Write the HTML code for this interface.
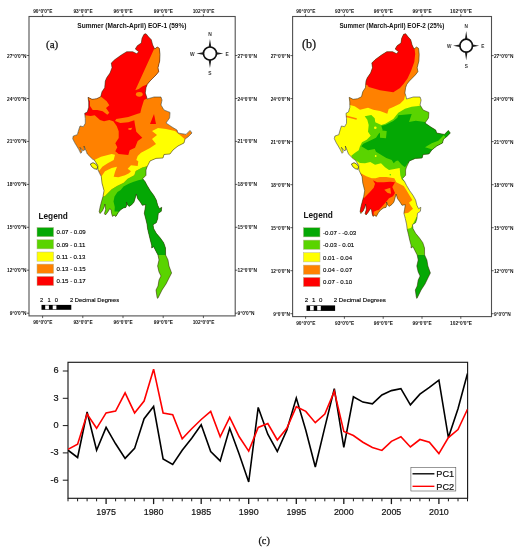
<!DOCTYPE html>
<html lang="en"><head><meta charset="utf-8"><title>Summer EOF patterns and principal components</title>
<style>
html,body{margin:0;padding:0;background:#fff}
body{width:525px;height:550px;overflow:hidden}
svg{display:block}
text{font-family:"Liberation Sans",sans-serif;fill:#111}
.tk{font-size:4.8px;font-weight:bold}
.tt{font-size:6.55px;font-weight:bold}
.cp{font-size:4.9px;fill:#333;font-weight:bold}
.lg{font-size:8.3px;font-weight:bold}
.ll{font-size:6.1px;fill:#000;stroke:#000;stroke-width:0.12px}
.ax{font-size:9.2px;stroke:#111;stroke-width:0.2px}
.sf{font-family:"Liberation Serif","DejaVu Serif",serif;stroke:#111;stroke-width:0.25px}
</style></head><body>
<svg width="525" height="550" viewBox="0 0 525 550">
<rect width="525" height="550" fill="#fff"/>
<rect x="29.0" y="16.5" width="206.2" height="299.4" fill="#fff" stroke="#505050" stroke-width="1.1"/>
<path d="M42.6 16.5v-2.2M42.6 315.9v2.2" stroke="#1a1a1a" stroke-width="0.7"/>
<text class="tk" x="42.8" y="12.6" text-anchor="middle">90°0'0"E</text>
<text class="tk" x="42.8" y="323.8" text-anchor="middle">90°0'0"E</text>
<path d="M82.8 16.5v-2.2M82.8 315.9v2.2" stroke="#1a1a1a" stroke-width="0.7"/>
<text class="tk" x="83.0" y="12.6" text-anchor="middle">93°0'0"E</text>
<text class="tk" x="83.0" y="323.8" text-anchor="middle">93°0'0"E</text>
<path d="M123.0 16.5v-2.2M123.0 315.9v2.2" stroke="#1a1a1a" stroke-width="0.7"/>
<text class="tk" x="123.2" y="12.6" text-anchor="middle">96°0'0"E</text>
<text class="tk" x="123.2" y="323.8" text-anchor="middle">96°0'0"E</text>
<path d="M163.2 16.5v-2.2M163.2 315.9v2.2" stroke="#1a1a1a" stroke-width="0.7"/>
<text class="tk" x="163.4" y="12.6" text-anchor="middle">99°0'0"E</text>
<text class="tk" x="163.4" y="323.8" text-anchor="middle">99°0'0"E</text>
<path d="M203.4 16.5v-2.2M203.4 315.9v2.2" stroke="#1a1a1a" stroke-width="0.7"/>
<text class="tk" x="203.6" y="12.6" text-anchor="middle">102°0'0"E</text>
<text class="tk" x="203.6" y="323.8" text-anchor="middle">102°0'0"E</text>
<path d="M29.0 55.5h-2.2M235.2 55.5h2.2" stroke="#1a1a1a" stroke-width="0.7"/>
<text class="tk" x="26.5" y="57.5" text-anchor="end">27°0'0"N</text>
<text class="tk" x="237.6" y="57.5" text-anchor="start">27°0'0"N</text>
<path d="M29.0 98.5h-2.2M235.2 98.5h2.2" stroke="#1a1a1a" stroke-width="0.7"/>
<text class="tk" x="26.5" y="100.5" text-anchor="end">24°0'0"N</text>
<text class="tk" x="237.6" y="100.5" text-anchor="start">24°0'0"N</text>
<path d="M29.0 141.4h-2.2M235.2 141.4h2.2" stroke="#1a1a1a" stroke-width="0.7"/>
<text class="tk" x="26.5" y="143.4" text-anchor="end">21°0'0"N</text>
<text class="tk" x="237.6" y="143.4" text-anchor="start">21°0'0"N</text>
<path d="M29.0 184.4h-2.2M235.2 184.4h2.2" stroke="#1a1a1a" stroke-width="0.7"/>
<text class="tk" x="26.5" y="186.4" text-anchor="end">18°0'0"N</text>
<text class="tk" x="237.6" y="186.4" text-anchor="start">18°0'0"N</text>
<path d="M29.0 227.3h-2.2M235.2 227.3h2.2" stroke="#1a1a1a" stroke-width="0.7"/>
<text class="tk" x="26.5" y="229.3" text-anchor="end">15°0'0"N</text>
<text class="tk" x="237.6" y="229.3" text-anchor="start">15°0'0"N</text>
<path d="M29.0 270.2h-2.2M235.2 270.2h2.2" stroke="#1a1a1a" stroke-width="0.7"/>
<text class="tk" x="26.5" y="272.2" text-anchor="end">12°0'0"N</text>
<text class="tk" x="237.6" y="272.2" text-anchor="start">12°0'0"N</text>
<path d="M29.0 313.2h-2.2M235.2 313.2h2.2" stroke="#1a1a1a" stroke-width="0.7"/>
<text class="tk" x="26.5" y="315.2" text-anchor="end">9°0'0"N</text>
<text class="tk" x="237.6" y="315.2" text-anchor="start">9°0'0"N</text>
<clipPath id="clip0"><polygon points="100.7,96.7 102.0,91.7 104.7,87.7 105.3,81.0 106.7,77.7 110.0,73.0 112.0,67.7 111.3,63.0 114.7,59.7 121.3,55.0 126.7,51.7 132.7,51.7 136.7,53.7 138.7,51.7 135.3,49.0 137.3,45.7 141.3,43.0 142.0,38.3 144.0,34.3 146.0,33.7 148.7,37.0 151.3,39.7 152.7,45.0 154.7,49.0 157.3,47.0 159.3,48.3 160.0,54.3 159.7,61.0 158.0,67.7 158.7,71.7 156.0,75.0 152.7,78.3 150.0,81.0 147.3,84.3 146.0,87.7 145.3,93.0 146.7,97.0 147.0,99.0 154.0,97.0 161.0,97.0 162.0,100.0 161.0,105.0 164.0,110.0 170.0,112.4 169.6,118.0 166.0,123.0 172.0,127.0 177.0,130.0 178.0,133.0 186.0,134.4 190.0,130.4 192.0,133.0 188.0,137.0 185.0,139.0 184.0,143.0 178.0,146.0 173.0,150.0 170.0,154.0 164.0,154.5 163.0,158.0 156.0,158.4 150.0,161.0 147.0,167.0 146.0,170.0 146.0,175.3 142.7,178.7 145.0,181.5 147.0,185.3 150.3,190.7 153.7,195.3 156.3,200.0 157.7,205.3 159.4,208.7 161.7,207.3 161.3,211.3 158.3,213.3 157.7,218.7 156.3,222.7 153.0,224.7 153.7,228.7 156.3,233.3 160.3,238.0 163.7,242.7 165.5,248.0 165.6,255.0 168.0,260.0 169.0,266.0 171.6,273.0 169.0,278.0 166.0,284.0 162.0,290.0 158.0,298.0 157.6,298.4 157.0,297.0 156.0,290.0 158.0,286.0 159.0,280.0 161.0,276.0 159.0,272.0 157.6,266.0 159.0,260.0 158.0,255.0 155.7,250.7 153.7,246.7 151.7,248.0 151.7,245.3 150.3,240.0 149.0,234.7 147.7,229.3 147.0,224.0 145.7,218.7 144.3,213.3 145.0,209.3 145.7,204.7 142.3,205.3 140.3,202.0 137.7,198.7 136.3,194.0 135.4,197.4 134.0,202.1 132.0,204.5 129.2,206.4 127.4,204.8 126.4,202.0 126.8,205.0 125.9,207.4 123.5,207.9 120.6,209.8 118.2,212.6 115.9,216.4 114.2,215.2 112.5,216.4 111.6,213.6 111.1,209.8 109.7,208.8 107.8,212.1 105.4,215.0 104.4,213.6 105.6,209.5 105.3,206.5 104.9,204.0 104.4,206.5 102.5,210.7 100.1,213.6 99.2,211.7 100.1,206.9 101.6,201.2 103.0,196.4 104.0,190.7 102.5,185.0 102.0,183.3 101.3,176.7 98.0,170.0 97.7,165.3 94.3,160.0 92.7,159.3 90.0,156.7 87.3,154.0 86.0,150.7 84.0,146.0 84.7,150.0 82.7,150.7 80.0,147.3 82.0,152.0 80.7,153.3 78.7,149.3 76.7,146.0 74.7,142.7 72.7,138.7 73.3,136.0 77.3,134.7 78.7,130.0 80.0,126.0 83.3,126.7 85.3,123.3 85.3,118.7 84.7,113.3 87.3,112.0 88.7,107.3 88.7,102.0 88.0,97.3 92.0,99.3 96.7,98.7"/></clipPath>
<g clip-path="url(#clip0)">
<polygon points="100.7,96.7 102.0,91.7 104.7,87.7 105.3,81.0 106.7,77.7 110.0,73.0 112.0,67.7 111.3,63.0 114.7,59.7 121.3,55.0 126.7,51.7 132.7,51.7 136.7,53.7 138.7,51.7 135.3,49.0 137.3,45.7 141.3,43.0 142.0,38.3 144.0,34.3 146.0,33.7 148.7,37.0 151.3,39.7 152.7,45.0 154.7,49.0 157.3,47.0 159.3,48.3 160.0,54.3 159.7,61.0 158.0,67.7 158.7,71.7 156.0,75.0 152.7,78.3 150.0,81.0 147.3,84.3 146.0,87.7 145.3,93.0 146.7,97.0 147.0,99.0 154.0,97.0 161.0,97.0 162.0,100.0 161.0,105.0 164.0,110.0 170.0,112.4 169.6,118.0 166.0,123.0 172.0,127.0 177.0,130.0 178.0,133.0 186.0,134.4 190.0,130.4 192.0,133.0 188.0,137.0 185.0,139.0 184.0,143.0 178.0,146.0 173.0,150.0 170.0,154.0 164.0,154.5 163.0,158.0 156.0,158.4 150.0,161.0 147.0,167.0 146.0,170.0 146.0,175.3 142.7,178.7 145.0,181.5 147.0,185.3 150.3,190.7 153.7,195.3 156.3,200.0 157.7,205.3 159.4,208.7 161.7,207.3 161.3,211.3 158.3,213.3 157.7,218.7 156.3,222.7 153.0,224.7 153.7,228.7 156.3,233.3 160.3,238.0 163.7,242.7 165.5,248.0 165.6,255.0 168.0,260.0 169.0,266.0 171.6,273.0 169.0,278.0 166.0,284.0 162.0,290.0 158.0,298.0 157.6,298.4 157.0,297.0 156.0,290.0 158.0,286.0 159.0,280.0 161.0,276.0 159.0,272.0 157.6,266.0 159.0,260.0 158.0,255.0 155.7,250.7 153.7,246.7 151.7,248.0 151.7,245.3 150.3,240.0 149.0,234.7 147.7,229.3 147.0,224.0 145.7,218.7 144.3,213.3 145.0,209.3 145.7,204.7 142.3,205.3 140.3,202.0 137.7,198.7 136.3,194.0 135.4,197.4 134.0,202.1 132.0,204.5 129.2,206.4 127.4,204.8 126.4,202.0 126.8,205.0 125.9,207.4 123.5,207.9 120.6,209.8 118.2,212.6 115.9,216.4 114.2,215.2 112.5,216.4 111.6,213.6 111.1,209.8 109.7,208.8 107.8,212.1 105.4,215.0 104.4,213.6 105.6,209.5 105.3,206.5 104.9,204.0 104.4,206.5 102.5,210.7 100.1,213.6 99.2,211.7 100.1,206.9 101.6,201.2 103.0,196.4 104.0,190.7 102.5,185.0 102.0,183.3 101.3,176.7 98.0,170.0 97.7,165.3 94.3,160.0 92.7,159.3 90.0,156.7 87.3,154.0 86.0,150.7 84.0,146.0 84.7,150.0 82.7,150.7 80.0,147.3 82.0,152.0 80.7,153.3 78.7,149.3 76.7,146.0 74.7,142.7 72.7,138.7 73.3,136.0 77.3,134.7 78.7,130.0 80.0,126.0 83.3,126.7 85.3,123.3 85.3,118.7 84.7,113.3 87.3,112.0 88.7,107.3 88.7,102.0 88.0,97.3 92.0,99.3 96.7,98.7" fill="#FF8100"/>
<polygon points="70.0,115.3 70.0,20.0 185.0,20.0 185.0,93.0 148.0,93.0 147.3,98.2 144.0,100.0 141.5,108.0 140.3,113.0 137.7,113.7 128.3,117.0 116.3,119.0 115.0,121.0 120.3,123.0 128.3,122.3 134.3,120.3 135.0,125.0 136.3,131.7 142.3,137.7 137.7,141.0 135.0,147.7 129.7,150.3 128.3,155.0 118.7,154.0 115.3,151.3 117.3,147.3 115.3,143.3 118.7,138.0 118.7,131.3 116.7,126.0 113.3,121.3 109.3,120.0 104.0,121.3 100.0,120.0 94.7,115.3 90.7,116.0 85.3,115.3" fill="#FF0000"/>
<polygon points="154.3,48.5 135.3,90.3 138.7,89.0 142.7,86.3 147.0,84.5 175.0,84.5 175.0,40.0 157.0,40.0" fill="#FF8100"/>
<polygon points="90.0,100.7 86.0,99.0 86.0,96.0 100.0,96.0 102.7,98.0 106.7,101.3 109.3,105.3 106.0,108.0 109.3,112.7 107.3,114.7 102.7,111.3 97.3,110.0 92.7,110.0 90.0,106.0" fill="#FF8100"/>
<polygon points="150.0,124.0 154.0,114.0 156.0,124.0" fill="#FF0000"/>
<polygon points="128.3,128.3 132.3,127.7 131.0,130.0 128.5,129.7" fill="#FF8100"/>
<polygon points="90.0,160.0 94.3,160.0 101.0,156.7 111.7,154.0 115.0,154.7 113.7,160.0 107.7,163.3 102.3,166.7 99.5,170.5 90.0,170.5" fill="#FFFF00"/>
<polygon points="95.0,176.0 101.7,176.0 105.0,171.3 111.7,168.0 117.0,166.7 115.0,172.0 113.7,176.7 118.3,177.3 125.0,175.3 129.0,173.3 131.0,171.3 127.7,168.7 131.0,165.3 137.7,166.0 138.3,161.3 136.3,160.0 137.7,156.0 141.0,152.7 150.0,148.0 156.0,144.0 152.0,139.0 157.0,135.0 152.0,131.0 158.0,128.0 166.0,129.0 175.0,131.0 178.0,133.6 182.0,136.8 185.5,140.0 198.0,141.0 198.0,166.0 148.0,166.0 142.3,167.5 135.7,171.0 134.3,175.3 127.7,178.7 123.7,182.7 117.0,186.0 111.7,189.3 107.7,193.3 105.0,196.0 95.0,197.0" fill="#FFFF00"/>
<polygon points="95.0,197.0 102.7,196.7 105.0,196.0 107.7,193.3 111.7,189.3 117.0,186.0 123.7,182.7 127.7,178.7 134.3,175.3 135.7,171.0 142.3,167.5 148.0,166.0 180.0,166.0 180.0,310.0 90.0,310.0 90.0,197.0" fill="#5AD400"/>
<polygon points="143.7,178.9 138.3,180.3 133.0,182.0 128.7,183.8 123.5,186.5 120.7,190.0 117.5,192.0 114.5,196.5 113.5,201.5 114.8,207.0 114.5,211.3 115.5,220.0 130.0,255.0 180.0,255.0 180.0,178.9" fill="#04A804"/>
<polygon points="113.6,211.5 118.6,211.5 116.5,217.5 113.6,217.5" fill="#5AD400"/>
<ellipse cx="139.3" cy="94.3" rx="3.4" ry="2.4" fill="#FF8100"/>
</g>
<polygon points="100.7,96.7 102.0,91.7 104.7,87.7 105.3,81.0 106.7,77.7 110.0,73.0 112.0,67.7 111.3,63.0 114.7,59.7 121.3,55.0 126.7,51.7 132.7,51.7 136.7,53.7 138.7,51.7 135.3,49.0 137.3,45.7 141.3,43.0 142.0,38.3 144.0,34.3 146.0,33.7 148.7,37.0 151.3,39.7 152.7,45.0 154.7,49.0 157.3,47.0 159.3,48.3 160.0,54.3 159.7,61.0 158.0,67.7 158.7,71.7 156.0,75.0 152.7,78.3 150.0,81.0 147.3,84.3 146.0,87.7 145.3,93.0 146.7,97.0 147.0,99.0 154.0,97.0 161.0,97.0 162.0,100.0 161.0,105.0 164.0,110.0 170.0,112.4 169.6,118.0 166.0,123.0 172.0,127.0 177.0,130.0 178.0,133.0 186.0,134.4 190.0,130.4 192.0,133.0 188.0,137.0 185.0,139.0 184.0,143.0 178.0,146.0 173.0,150.0 170.0,154.0 164.0,154.5 163.0,158.0 156.0,158.4 150.0,161.0 147.0,167.0 146.0,170.0 146.0,175.3 142.7,178.7 145.0,181.5 147.0,185.3 150.3,190.7 153.7,195.3 156.3,200.0 157.7,205.3 159.4,208.7 161.7,207.3 161.3,211.3 158.3,213.3 157.7,218.7 156.3,222.7 153.0,224.7 153.7,228.7 156.3,233.3 160.3,238.0 163.7,242.7 165.5,248.0 165.6,255.0 168.0,260.0 169.0,266.0 171.6,273.0 169.0,278.0 166.0,284.0 162.0,290.0 158.0,298.0 157.6,298.4 157.0,297.0 156.0,290.0 158.0,286.0 159.0,280.0 161.0,276.0 159.0,272.0 157.6,266.0 159.0,260.0 158.0,255.0 155.7,250.7 153.7,246.7 151.7,248.0 151.7,245.3 150.3,240.0 149.0,234.7 147.7,229.3 147.0,224.0 145.7,218.7 144.3,213.3 145.0,209.3 145.7,204.7 142.3,205.3 140.3,202.0 137.7,198.7 136.3,194.0 135.4,197.4 134.0,202.1 132.0,204.5 129.2,206.4 127.4,204.8 126.4,202.0 126.8,205.0 125.9,207.4 123.5,207.9 120.6,209.8 118.2,212.6 115.9,216.4 114.2,215.2 112.5,216.4 111.6,213.6 111.1,209.8 109.7,208.8 107.8,212.1 105.4,215.0 104.4,213.6 105.6,209.5 105.3,206.5 104.9,204.0 104.4,206.5 102.5,210.7 100.1,213.6 99.2,211.7 100.1,206.9 101.6,201.2 103.0,196.4 104.0,190.7 102.5,185.0 102.0,183.3 101.3,176.7 98.0,170.0 97.7,165.3 94.3,160.0 92.7,159.3 90.0,156.7 87.3,154.0 86.0,150.7 84.0,146.0 84.7,150.0 82.7,150.7 80.0,147.3 82.0,152.0 80.7,153.3 78.7,149.3 76.7,146.0 74.7,142.7 72.7,138.7 73.3,136.0 77.3,134.7 78.7,130.0 80.0,126.0 83.3,126.7 85.3,123.3 85.3,118.7 84.7,113.3 87.3,112.0 88.7,107.3 88.7,102.0 88.0,97.3 92.0,99.3 96.7,98.7" fill="none" stroke="#30301a" stroke-width="0.55" stroke-linejoin="round"/>
<polygon points="90.3,164.0 93.0,162.7 95.7,164.0 97.7,166.7 97.0,169.3 94.3,168.7 91.7,166.7" fill="#FFFF00" stroke="#30301a" stroke-width="0.7"/>
<text class="lg" x="38.4" y="219.2">Legend</text>
<rect x="37.0" y="227.5" width="16.6" height="9.2" fill="#04A804" stroke="#b8b890" stroke-width="0.5"/>
<text class="ll" x="56.6" y="234.3">0.07 - 0.09</text>
<rect x="37.0" y="239.7" width="16.6" height="9.2" fill="#5AD400" stroke="#b8b890" stroke-width="0.5"/>
<text class="ll" x="56.6" y="246.5">0.09 - 0.11</text>
<rect x="37.0" y="252.0" width="16.6" height="9.2" fill="#FFFF00" stroke="#b8b890" stroke-width="0.5"/>
<text class="ll" x="56.6" y="258.8">0.11 - 0.13</text>
<rect x="37.0" y="264.1" width="16.6" height="9.2" fill="#FF8100" stroke="#b8b890" stroke-width="0.5"/>
<text class="ll" x="56.6" y="270.9">0.13 - 0.15</text>
<rect x="37.0" y="276.4" width="16.6" height="9.2" fill="#FF0000" stroke="#b8b890" stroke-width="0.5"/>
<text class="ll" x="56.6" y="283.2">0.15 - 0.17</text>
<rect x="41.5" y="304.9" width="29.8" height="4.9" fill="#000"/>
<rect x="45.2" y="305.4" width="3.7" height="3.9" fill="#fff"/>
<rect x="52.7" y="305.4" width="3.7" height="3.9" fill="#fff"/>
<text class="ll" style="font-size:5.8px" x="41.5" y="301.9" text-anchor="middle">2</text>
<text class="ll" style="font-size:5.8px" x="49.0" y="301.9" text-anchor="middle">1</text>
<text class="ll" style="font-size:5.8px" x="56.4" y="301.9" text-anchor="middle">0</text>
<text class="ll" style="font-size:5.8px" x="69.9" y="301.9">2 Decimal Degrees</text>
<rect x="292.6" y="16.5" width="198.9" height="300.1" fill="#fff" stroke="#505050" stroke-width="1.1"/>
<path d="M305.6 16.5v-2.2M305.6 316.6v2.2" stroke="#1a1a1a" stroke-width="0.7"/>
<text class="tk" x="305.8" y="12.6" text-anchor="middle">90°0'0"E</text>
<text class="tk" x="305.8" y="324.5" text-anchor="middle">90°0'0"E</text>
<path d="M344.4 16.5v-2.2M344.4 316.6v2.2" stroke="#1a1a1a" stroke-width="0.7"/>
<text class="tk" x="344.6" y="12.6" text-anchor="middle">93°0'0"E</text>
<text class="tk" x="344.6" y="324.5" text-anchor="middle">93°0'0"E</text>
<path d="M383.2 16.5v-2.2M383.2 316.6v2.2" stroke="#1a1a1a" stroke-width="0.7"/>
<text class="tk" x="383.4" y="12.6" text-anchor="middle">96°0'0"E</text>
<text class="tk" x="383.4" y="324.5" text-anchor="middle">96°0'0"E</text>
<path d="M422.0 16.5v-2.2M422.0 316.6v2.2" stroke="#1a1a1a" stroke-width="0.7"/>
<text class="tk" x="422.2" y="12.6" text-anchor="middle">99°0'0"E</text>
<text class="tk" x="422.2" y="324.5" text-anchor="middle">99°0'0"E</text>
<path d="M460.8 16.5v-2.2M460.8 316.6v2.2" stroke="#1a1a1a" stroke-width="0.7"/>
<text class="tk" x="461.0" y="12.6" text-anchor="middle">102°0'0"E</text>
<text class="tk" x="461.0" y="324.5" text-anchor="middle">102°0'0"E</text>
<path d="M292.6 55.6h-2.2M491.5 55.6h2.2" stroke="#1a1a1a" stroke-width="0.7"/>
<text class="tk" x="290.1" y="57.6" text-anchor="end">27°0'0"N</text>
<text class="tk" x="493.9" y="57.6" text-anchor="start">27°0'0"N</text>
<path d="M292.6 98.6h-2.2M491.5 98.6h2.2" stroke="#1a1a1a" stroke-width="0.7"/>
<text class="tk" x="290.1" y="100.6" text-anchor="end">24°0'0"N</text>
<text class="tk" x="493.9" y="100.6" text-anchor="start">24°0'0"N</text>
<path d="M292.6 141.6h-2.2M491.5 141.6h2.2" stroke="#1a1a1a" stroke-width="0.7"/>
<text class="tk" x="290.1" y="143.6" text-anchor="end">21°0'0"N</text>
<text class="tk" x="493.9" y="143.6" text-anchor="start">21°0'0"N</text>
<path d="M292.6 184.7h-2.2M491.5 184.7h2.2" stroke="#1a1a1a" stroke-width="0.7"/>
<text class="tk" x="290.1" y="186.7" text-anchor="end">18°0'0"N</text>
<text class="tk" x="493.9" y="186.7" text-anchor="start">18°0'0"N</text>
<path d="M292.6 227.7h-2.2M491.5 227.7h2.2" stroke="#1a1a1a" stroke-width="0.7"/>
<text class="tk" x="290.1" y="229.7" text-anchor="end">15°0'0"N</text>
<text class="tk" x="493.9" y="229.7" text-anchor="start">15°0'0"N</text>
<path d="M292.6 270.7h-2.2M491.5 270.7h2.2" stroke="#1a1a1a" stroke-width="0.7"/>
<text class="tk" x="290.1" y="272.7" text-anchor="end">12°0'0"N</text>
<text class="tk" x="493.9" y="272.7" text-anchor="start">12°0'0"N</text>
<path d="M292.6 313.7h-2.2M491.5 313.7h2.2" stroke="#1a1a1a" stroke-width="0.7"/>
<text class="tk" x="290.1" y="315.7" text-anchor="end">9°0'0"N</text>
<text class="tk" x="493.9" y="315.7" text-anchor="start">9°0'0"N</text>
<clipPath id="clip1"><polygon points="361.5,96.7 362.8,91.7 365.4,87.7 366.0,81.0 367.3,77.7 370.6,73.0 372.5,67.7 371.8,63.0 375.1,59.7 381.5,55.0 386.8,51.7 392.6,51.7 396.5,53.7 398.5,51.7 395.2,49.0 397.1,45.7 401.0,43.0 401.7,38.3 403.6,34.3 405.6,33.7 408.2,37.0 410.7,39.7 412.1,45.0 414.0,49.0 416.5,47.0 418.5,48.3 419.2,54.3 418.9,61.0 417.2,67.7 417.9,71.7 415.3,75.0 412.1,78.3 409.4,81.0 406.8,84.3 405.6,87.7 404.9,93.0 406.2,97.0 406.5,99.0 413.3,97.0 420.1,97.0 421.1,100.0 420.1,105.0 423.1,110.0 428.9,112.4 428.5,118.0 425.0,123.0 430.8,127.0 435.7,130.0 436.7,133.0 444.4,134.4 448.3,130.4 450.3,133.0 446.4,137.0 443.5,139.0 442.5,143.0 436.7,146.0 431.8,150.0 428.9,154.0 423.1,154.5 422.1,158.0 415.3,158.4 409.4,161.0 406.5,167.0 405.6,170.0 405.6,175.3 402.3,178.7 404.6,181.5 406.5,185.3 409.7,190.7 413.0,195.3 415.6,200.0 416.9,205.3 418.6,208.7 420.8,207.3 420.4,211.3 417.5,213.3 416.9,218.7 415.6,222.7 412.4,224.7 413.0,228.7 415.6,233.3 419.5,238.0 422.8,242.7 424.5,248.0 424.6,255.0 426.9,260.0 427.9,266.0 430.4,273.0 427.9,278.0 425.0,284.0 421.1,290.0 417.2,298.0 416.8,298.4 416.3,297.0 415.3,290.0 417.2,286.0 418.2,280.0 420.1,276.0 418.2,272.0 416.8,266.0 418.2,260.0 417.2,255.0 415.0,250.7 413.0,246.7 411.1,248.0 411.1,245.3 409.7,240.0 408.5,234.7 407.2,229.3 406.5,224.0 405.3,218.7 403.9,213.3 404.6,209.3 405.3,204.7 402.0,205.3 400.0,202.0 397.5,198.7 396.1,194.0 395.2,197.4 393.9,202.1 391.9,204.5 389.2,206.4 387.5,204.8 386.5,202.0 386.9,205.0 386.0,207.4 383.7,207.9 380.9,209.8 378.5,212.6 376.3,216.4 374.6,215.2 373.0,216.4 372.1,213.6 371.6,209.8 370.3,208.8 368.4,212.1 366.1,215.0 365.1,213.6 366.3,209.5 366.0,206.5 365.6,204.0 365.1,206.5 363.3,210.7 360.9,213.6 360.1,211.7 360.9,206.9 362.4,201.2 363.7,196.4 364.7,190.7 363.3,185.0 362.8,183.3 362.1,176.7 358.9,170.0 358.6,165.3 355.3,160.0 353.7,159.3 351.1,156.7 348.5,154.0 347.2,150.7 345.3,146.0 346.0,150.0 344.0,150.7 341.4,147.3 343.3,152.0 342.1,153.3 340.1,149.3 338.2,146.0 336.2,142.7 334.3,138.7 334.9,136.0 338.8,134.7 340.1,130.0 341.4,126.0 344.6,126.7 346.5,123.3 346.5,118.7 346.0,113.3 348.5,112.0 349.8,107.3 349.8,102.0 349.2,97.3 353.1,99.3 357.6,98.7"/></clipPath>
<g clip-path="url(#clip1)">
<polygon points="361.5,96.7 362.8,91.7 365.4,87.7 366.0,81.0 367.3,77.7 370.6,73.0 372.5,67.7 371.8,63.0 375.1,59.7 381.5,55.0 386.8,51.7 392.6,51.7 396.5,53.7 398.5,51.7 395.2,49.0 397.1,45.7 401.0,43.0 401.7,38.3 403.6,34.3 405.6,33.7 408.2,37.0 410.7,39.7 412.1,45.0 414.0,49.0 416.5,47.0 418.5,48.3 419.2,54.3 418.9,61.0 417.2,67.7 417.9,71.7 415.3,75.0 412.1,78.3 409.4,81.0 406.8,84.3 405.6,87.7 404.9,93.0 406.2,97.0 406.5,99.0 413.3,97.0 420.1,97.0 421.1,100.0 420.1,105.0 423.1,110.0 428.9,112.4 428.5,118.0 425.0,123.0 430.8,127.0 435.7,130.0 436.7,133.0 444.4,134.4 448.3,130.4 450.3,133.0 446.4,137.0 443.5,139.0 442.5,143.0 436.7,146.0 431.8,150.0 428.9,154.0 423.1,154.5 422.1,158.0 415.3,158.4 409.4,161.0 406.5,167.0 405.6,170.0 405.6,175.3 402.3,178.7 404.6,181.5 406.5,185.3 409.7,190.7 413.0,195.3 415.6,200.0 416.9,205.3 418.6,208.7 420.8,207.3 420.4,211.3 417.5,213.3 416.9,218.7 415.6,222.7 412.4,224.7 413.0,228.7 415.6,233.3 419.5,238.0 422.8,242.7 424.5,248.0 424.6,255.0 426.9,260.0 427.9,266.0 430.4,273.0 427.9,278.0 425.0,284.0 421.1,290.0 417.2,298.0 416.8,298.4 416.3,297.0 415.3,290.0 417.2,286.0 418.2,280.0 420.1,276.0 418.2,272.0 416.8,266.0 418.2,260.0 417.2,255.0 415.0,250.7 413.0,246.7 411.1,248.0 411.1,245.3 409.7,240.0 408.5,234.7 407.2,229.3 406.5,224.0 405.3,218.7 403.9,213.3 404.6,209.3 405.3,204.7 402.0,205.3 400.0,202.0 397.5,198.7 396.1,194.0 395.2,197.4 393.9,202.1 391.9,204.5 389.2,206.4 387.5,204.8 386.5,202.0 386.9,205.0 386.0,207.4 383.7,207.9 380.9,209.8 378.5,212.6 376.3,216.4 374.6,215.2 373.0,216.4 372.1,213.6 371.6,209.8 370.3,208.8 368.4,212.1 366.1,215.0 365.1,213.6 366.3,209.5 366.0,206.5 365.6,204.0 365.1,206.5 363.3,210.7 360.9,213.6 360.1,211.7 360.9,206.9 362.4,201.2 363.7,196.4 364.7,190.7 363.3,185.0 362.8,183.3 362.1,176.7 358.9,170.0 358.6,165.3 355.3,160.0 353.7,159.3 351.1,156.7 348.5,154.0 347.2,150.7 345.3,146.0 346.0,150.0 344.0,150.7 341.4,147.3 343.3,152.0 342.1,153.3 340.1,149.3 338.2,146.0 336.2,142.7 334.3,138.7 334.9,136.0 338.8,134.7 340.1,130.0 341.4,126.0 344.6,126.7 346.5,123.3 346.5,118.7 346.0,113.3 348.5,112.0 349.8,107.3 349.8,102.0 349.2,97.3 353.1,99.3 357.6,98.7" fill="#FFFF00"/>
<polygon points="330.0,20.0 440.0,20.0 440.0,95.0 406.0,95.0 405.0,96.0 404.0,99.7 400.0,103.7 393.3,107.0 388.7,109.0 387.3,113.7 380.0,111.0 373.3,109.7 368.0,107.7 360.0,109.7 354.7,106.3 350.0,105.0 340.0,105.0" fill="#FF8100"/>
<polygon points="355.0,20.0 355.0,83.0 367.3,85.0 368.7,87.0 380.0,90.3 393.3,92.3 400.0,88.0 403.5,84.0 407.5,78.5 411.0,71.0 414.3,62.0 415.2,54.0 414.5,48.0 412.5,43.0 412.5,20.0" fill="#FF0000"/>
<polygon points="364.7,116.3 371.3,115.0 374.7,118.3 375.3,122.3 381.3,125.0 385.3,123.7 393.3,119.0 398.3,112.7 405.0,108.7 411.7,106.7 418.3,106.0 423.0,105.0 460.0,105.0 460.0,181.0 404.0,181.5 403.7,181.3 401.7,179.3 400.3,175.3 399.7,168.0 395.7,168.7 389.0,170.0 385.0,167.3 381.0,163.3 375.0,164.7 370.3,162.0 365.0,163.3 360.0,163.0 356.0,160.5 352.0,157.5 351.3,155.7 354.7,153.0 358.7,150.3 360.0,146.3 362.0,142.3 366.7,139.7 370.7,135.7 368.0,131.7 368.7,125.0 367.3,119.7" fill="#5AD400"/>
<polygon points="381.3,125.7 385.3,125.0 393.3,121.0 397.3,117.7 398.3,115.3 411.7,114.0 409.0,122.0 415.7,120.7 425.0,122.0 460.0,122.0 460.0,163.0 409.0,163.0 407.7,163.3 405.0,167.3 401.7,164.7 398.0,160.5 396.0,161.0 393.7,163.3 391.7,160.0 386.3,158.0 379.7,154.0 376.0,151.7 374.7,149.0 368.0,150.3 361.3,146.3 363.3,143.7 369.3,141.0 376.0,137.7 378.7,133.7 382.7,130.3" fill="#04A804"/>
<polygon points="443.7,135.3 438.3,140.7 431.7,143.3 425.0,147.3 434.3,150.0 438.3,146.0 442.3,142.7 446.0,138.0" fill="#5AD400"/>
<polygon points="380.0,130.3 386.7,131.0 386.0,138.3 380.0,137.7" fill="#5AD400"/>
<polygon points="350.0,172.0 359.0,172.0 361.7,173.7 366.3,176.3 371.7,178.3 375.7,178.3 379.7,177.0 386.3,177.0 394.3,178.3 396.3,182.3 403.7,186.0 406.3,190.0 410.3,196.7 412.3,200.0 409.0,202.7 411.0,206.0 413.0,208.7 408.3,212.7 405.7,213.3 400.0,214.0 400.0,225.0 350.0,225.0" fill="#FF8100"/>
<polygon points="373.0,180.3 377.0,182.3 383.7,182.3 390.3,181.7 395.0,182.3 392.3,187.0 395.0,193.0 393.0,196.3 389.0,198.3 386.3,201.7 382.3,206.3 379.0,209.7 375.0,211.7 373.7,216.3 371.7,215.7 370.3,211.7 367.7,214.3 365.0,215.0 363.7,211.7 360.3,212.3 355.0,213.0 355.0,199.0 364.3,197.7 369.7,192.3 373.7,187.7 375.0,183.7" fill="#FF0000"/>
<polygon points="384.3,189.7 390.3,187.7 391.0,193.7 387.7,193.0" fill="#FF8100"/>
<polygon points="373.7,211.7 377.7,210.0 377.0,217.0 373.7,217.0" fill="#FF8100"/>
<polygon points="400.0,229.5 407.0,229.0 411.0,228.0 414.0,222.0 416.5,217.0 425.0,215.0 440.0,215.0 440.0,255.0 400.0,255.0" fill="#5AD400"/>
<polygon points="400.0,255.0 440.0,255.0 440.0,305.0 400.0,305.0" fill="#04A804"/>
<line x1="346" y1="116.3" x2="356.7" y2="119" stroke="#FF8100" stroke-width="1.4"/>
<circle cx="375.3" cy="127.7" r="1.3" fill="#FFFF00"/>
<circle cx="375.7" cy="156" r="0.9" fill="#FFFF00"/>
<circle cx="390.3" cy="174.7" r="0.8" fill="#5AD400"/>
</g>
<polygon points="361.5,96.7 362.8,91.7 365.4,87.7 366.0,81.0 367.3,77.7 370.6,73.0 372.5,67.7 371.8,63.0 375.1,59.7 381.5,55.0 386.8,51.7 392.6,51.7 396.5,53.7 398.5,51.7 395.2,49.0 397.1,45.7 401.0,43.0 401.7,38.3 403.6,34.3 405.6,33.7 408.2,37.0 410.7,39.7 412.1,45.0 414.0,49.0 416.5,47.0 418.5,48.3 419.2,54.3 418.9,61.0 417.2,67.7 417.9,71.7 415.3,75.0 412.1,78.3 409.4,81.0 406.8,84.3 405.6,87.7 404.9,93.0 406.2,97.0 406.5,99.0 413.3,97.0 420.1,97.0 421.1,100.0 420.1,105.0 423.1,110.0 428.9,112.4 428.5,118.0 425.0,123.0 430.8,127.0 435.7,130.0 436.7,133.0 444.4,134.4 448.3,130.4 450.3,133.0 446.4,137.0 443.5,139.0 442.5,143.0 436.7,146.0 431.8,150.0 428.9,154.0 423.1,154.5 422.1,158.0 415.3,158.4 409.4,161.0 406.5,167.0 405.6,170.0 405.6,175.3 402.3,178.7 404.6,181.5 406.5,185.3 409.7,190.7 413.0,195.3 415.6,200.0 416.9,205.3 418.6,208.7 420.8,207.3 420.4,211.3 417.5,213.3 416.9,218.7 415.6,222.7 412.4,224.7 413.0,228.7 415.6,233.3 419.5,238.0 422.8,242.7 424.5,248.0 424.6,255.0 426.9,260.0 427.9,266.0 430.4,273.0 427.9,278.0 425.0,284.0 421.1,290.0 417.2,298.0 416.8,298.4 416.3,297.0 415.3,290.0 417.2,286.0 418.2,280.0 420.1,276.0 418.2,272.0 416.8,266.0 418.2,260.0 417.2,255.0 415.0,250.7 413.0,246.7 411.1,248.0 411.1,245.3 409.7,240.0 408.5,234.7 407.2,229.3 406.5,224.0 405.3,218.7 403.9,213.3 404.6,209.3 405.3,204.7 402.0,205.3 400.0,202.0 397.5,198.7 396.1,194.0 395.2,197.4 393.9,202.1 391.9,204.5 389.2,206.4 387.5,204.8 386.5,202.0 386.9,205.0 386.0,207.4 383.7,207.9 380.9,209.8 378.5,212.6 376.3,216.4 374.6,215.2 373.0,216.4 372.1,213.6 371.6,209.8 370.3,208.8 368.4,212.1 366.1,215.0 365.1,213.6 366.3,209.5 366.0,206.5 365.6,204.0 365.1,206.5 363.3,210.7 360.9,213.6 360.1,211.7 360.9,206.9 362.4,201.2 363.7,196.4 364.7,190.7 363.3,185.0 362.8,183.3 362.1,176.7 358.9,170.0 358.6,165.3 355.3,160.0 353.7,159.3 351.1,156.7 348.5,154.0 347.2,150.7 345.3,146.0 346.0,150.0 344.0,150.7 341.4,147.3 343.3,152.0 342.1,153.3 340.1,149.3 338.2,146.0 336.2,142.7 334.3,138.7 334.9,136.0 338.8,134.7 340.1,130.0 341.4,126.0 344.6,126.7 346.5,123.3 346.5,118.7 346.0,113.3 348.5,112.0 349.8,107.3 349.8,102.0 349.2,97.3 353.1,99.3 357.6,98.7" fill="none" stroke="#30301a" stroke-width="0.55" stroke-linejoin="round"/>
<polygon points="351.4,164.0 354.0,162.7 356.6,164.0 358.6,166.7 357.9,169.3 355.3,168.7 352.8,166.7" fill="#FFFF00" stroke="#30301a" stroke-width="0.7"/>
<text class="lg" x="303.4" y="218.0">Legend</text>
<rect x="303.4" y="227.7" width="16.6" height="9.2" fill="#04A804" stroke="#b8b890" stroke-width="0.5"/>
<text class="ll" x="323.0" y="234.5">-0.07 - -0.03</text>
<rect x="303.4" y="240.1" width="16.6" height="9.2" fill="#5AD400" stroke="#b8b890" stroke-width="0.5"/>
<text class="ll" x="323.0" y="246.9">-0.03 - 0.01</text>
<rect x="303.4" y="252.7" width="16.6" height="9.2" fill="#FFFF00" stroke="#b8b890" stroke-width="0.5"/>
<text class="ll" x="323.0" y="259.5">0.01 - 0.04</text>
<rect x="303.4" y="265.1" width="16.6" height="9.2" fill="#FF8100" stroke="#b8b890" stroke-width="0.5"/>
<text class="ll" x="323.0" y="271.9">0.04 - 0.07</text>
<rect x="303.4" y="277.4" width="16.6" height="9.2" fill="#FF0000" stroke="#b8b890" stroke-width="0.5"/>
<text class="ll" x="323.0" y="284.2">0.07 - 0.10</text>
<rect x="306.5" y="305.4" width="28.6" height="5.5" fill="#000"/>
<rect x="310.1" y="305.9" width="3.6" height="4.5" fill="#fff"/>
<rect x="317.2" y="305.9" width="3.6" height="4.5" fill="#fff"/>
<text class="ll" style="font-size:6.15px" x="306.5" y="301.9" text-anchor="middle">2</text>
<text class="ll" style="font-size:6.15px" x="313.6" y="301.9" text-anchor="middle">1</text>
<text class="ll" style="font-size:6.15px" x="320.8" y="301.9" text-anchor="middle">0</text>
<text class="ll" style="font-size:6.15px" x="333.7" y="301.9">2 Decimal Degrees</text>
<text class="tt" x="131.9" y="27.7" text-anchor="middle">Summer (March-April) EOF-1 (59%)</text>
<text class="tt" style="font-size:6.3px" x="391.9" y="27.7" text-anchor="middle">Summer (March-April) EOF-2 (25%)</text>
<text class="sf" x="46.0" y="47.9" style="font-size:11px">(a)</text>
<text class="sf" x="301.9" y="47.9" style="font-size:12.2px">(b)</text>
<text class="sf" x="258.4" y="543.6" style="font-size:10.3px">(c)</text>
<g transform="translate(209.96,53.5) scale(1.0,1)">
<path d="M-1.5,-5.5 L0,-14.6 L1.5,-5.5Z M-1.5,5.5 L0,14.6 L1.5,5.5Z M-5.5,-1.5 L-13.6,0 L-5.5,1.5Z M5.5,-1.5 L13.4,0 L5.5,1.5Z" fill="#222"/>
<circle cx="0" cy="0" r="6.5" fill="#fff" stroke="#111" stroke-width="1.7"/>
<text class="cp" x="0" y="-17.6" text-anchor="middle">N</text>
<text class="cp" x="0" y="21.9" text-anchor="middle">S</text>
<text class="cp" x="-17.7" y="2.2" text-anchor="middle">W</text>
<text class="cp" x="17.3" y="2.5" text-anchor="middle">E</text>
</g>
<g transform="translate(466.2,45.7) scale(0.965,1)">
<path d="M-1.5,-5.5 L0,-14.6 L1.5,-5.5Z M-1.5,5.5 L0,14.6 L1.5,5.5Z M-5.5,-1.5 L-13.6,0 L-5.5,1.5Z M5.5,-1.5 L13.4,0 L5.5,1.5Z" fill="#222"/>
<circle cx="0" cy="0" r="6.5" fill="#fff" stroke="#111" stroke-width="1.7"/>
<text class="cp" x="0" y="-17.6" text-anchor="middle">N</text>
<text class="cp" x="0" y="21.9" text-anchor="middle">S</text>
<text class="cp" x="-17.7" y="2.2" text-anchor="middle">W</text>
<text class="cp" x="17.3" y="2.5" text-anchor="middle">E</text>
</g>
<clipPath id="cc"><rect x="68.0" y="362.3" width="399.6" height="136.0"/></clipPath>
<rect x="68.0" y="362.3" width="399.6" height="136.0" fill="#fff" stroke="#1a1a1a" stroke-width="1.15"/>
<path d="M68.0 371.0h-5.2" stroke="#1a1a1a" stroke-width="1"/>
<text class="ax" x="58.6" y="373.3" text-anchor="end">6</text>
<path d="M68.0 398.3h-5.2" stroke="#1a1a1a" stroke-width="1"/>
<text class="ax" x="58.6" y="400.6" text-anchor="end">3</text>
<path d="M68.0 425.6h-5.2" stroke="#1a1a1a" stroke-width="1"/>
<text class="ax" x="58.6" y="427.9" text-anchor="end">0</text>
<path d="M68.0 452.9h-5.2" stroke="#1a1a1a" stroke-width="1"/>
<text class="ax" x="58.6" y="455.2" text-anchor="end">-3</text>
<path d="M68.0 480.2h-5.2" stroke="#1a1a1a" stroke-width="1"/>
<text class="ax" x="58.6" y="482.5" text-anchor="end">-6</text>
<path d="M68.0 498.3v3" stroke="#1a1a1a" stroke-width="1"/>
<path d="M77.6 498.3v3" stroke="#1a1a1a" stroke-width="1"/>
<path d="M87.1 498.3v3" stroke="#1a1a1a" stroke-width="1"/>
<path d="M96.6 498.3v3" stroke="#1a1a1a" stroke-width="1"/>
<path d="M106.1 498.3v5.8" stroke="#1a1a1a" stroke-width="1.3"/>
<text class="ax" x="106.1" y="514.9" text-anchor="middle" textLength="19.8" lengthAdjust="spacingAndGlyphs">1975</text>
<path d="M115.6 498.3v3" stroke="#1a1a1a" stroke-width="1"/>
<path d="M125.1 498.3v3" stroke="#1a1a1a" stroke-width="1"/>
<path d="M134.6 498.3v3" stroke="#1a1a1a" stroke-width="1"/>
<path d="M144.1 498.3v3" stroke="#1a1a1a" stroke-width="1"/>
<path d="M153.6 498.3v5.8" stroke="#1a1a1a" stroke-width="1.3"/>
<text class="ax" x="153.6" y="514.9" text-anchor="middle" textLength="19.8" lengthAdjust="spacingAndGlyphs">1980</text>
<path d="M163.1 498.3v3" stroke="#1a1a1a" stroke-width="1"/>
<path d="M172.7 498.3v3" stroke="#1a1a1a" stroke-width="1"/>
<path d="M182.2 498.3v3" stroke="#1a1a1a" stroke-width="1"/>
<path d="M191.7 498.3v3" stroke="#1a1a1a" stroke-width="1"/>
<path d="M201.2 498.3v5.8" stroke="#1a1a1a" stroke-width="1.3"/>
<text class="ax" x="201.2" y="514.9" text-anchor="middle" textLength="19.8" lengthAdjust="spacingAndGlyphs">1985</text>
<path d="M210.7 498.3v3" stroke="#1a1a1a" stroke-width="1"/>
<path d="M220.2 498.3v3" stroke="#1a1a1a" stroke-width="1"/>
<path d="M229.7 498.3v3" stroke="#1a1a1a" stroke-width="1"/>
<path d="M239.2 498.3v3" stroke="#1a1a1a" stroke-width="1"/>
<path d="M248.7 498.3v5.8" stroke="#1a1a1a" stroke-width="1.3"/>
<text class="ax" x="248.7" y="514.9" text-anchor="middle" textLength="19.8" lengthAdjust="spacingAndGlyphs">1990</text>
<path d="M258.2 498.3v3" stroke="#1a1a1a" stroke-width="1"/>
<path d="M267.8 498.3v3" stroke="#1a1a1a" stroke-width="1"/>
<path d="M277.3 498.3v3" stroke="#1a1a1a" stroke-width="1"/>
<path d="M286.8 498.3v3" stroke="#1a1a1a" stroke-width="1"/>
<path d="M296.3 498.3v5.8" stroke="#1a1a1a" stroke-width="1.3"/>
<text class="ax" x="296.3" y="514.9" text-anchor="middle" textLength="19.8" lengthAdjust="spacingAndGlyphs">1995</text>
<path d="M305.8 498.3v3" stroke="#1a1a1a" stroke-width="1"/>
<path d="M315.3 498.3v3" stroke="#1a1a1a" stroke-width="1"/>
<path d="M324.8 498.3v3" stroke="#1a1a1a" stroke-width="1"/>
<path d="M334.3 498.3v3" stroke="#1a1a1a" stroke-width="1"/>
<path d="M343.8 498.3v5.8" stroke="#1a1a1a" stroke-width="1.3"/>
<text class="ax" x="343.8" y="514.9" text-anchor="middle" textLength="19.8" lengthAdjust="spacingAndGlyphs">2000</text>
<path d="M353.4 498.3v3" stroke="#1a1a1a" stroke-width="1"/>
<path d="M362.9 498.3v3" stroke="#1a1a1a" stroke-width="1"/>
<path d="M372.4 498.3v3" stroke="#1a1a1a" stroke-width="1"/>
<path d="M381.9 498.3v3" stroke="#1a1a1a" stroke-width="1"/>
<path d="M391.4 498.3v5.8" stroke="#1a1a1a" stroke-width="1.3"/>
<text class="ax" x="391.4" y="514.9" text-anchor="middle" textLength="19.8" lengthAdjust="spacingAndGlyphs">2005</text>
<path d="M400.9 498.3v3" stroke="#1a1a1a" stroke-width="1"/>
<path d="M410.4 498.3v3" stroke="#1a1a1a" stroke-width="1"/>
<path d="M419.9 498.3v3" stroke="#1a1a1a" stroke-width="1"/>
<path d="M429.4 498.3v3" stroke="#1a1a1a" stroke-width="1"/>
<path d="M438.9 498.3v5.8" stroke="#1a1a1a" stroke-width="1.3"/>
<text class="ax" x="438.9" y="514.9" text-anchor="middle" textLength="19.8" lengthAdjust="spacingAndGlyphs">2010</text>
<path d="M448.4 498.3v3" stroke="#1a1a1a" stroke-width="1"/>
<path d="M458.0 498.3v3" stroke="#1a1a1a" stroke-width="1"/>
<path d="M467.5 498.3v3" stroke="#1a1a1a" stroke-width="1"/>
<polyline points="68.0,450.2 77.6,457.5 87.1,412.0 96.6,450.2 106.1,427.4 115.6,443.8 125.1,458.4 134.6,448.4 144.1,418.7 153.6,406.5 163.1,459.0 172.7,464.4 182.2,450.2 191.7,438.2 201.2,424.8 210.7,451.5 220.2,460.9 229.7,428.3 239.2,454.2 248.7,482.0 258.2,407.4 267.8,434.2 277.3,451.5 286.8,430.2 296.3,398.1 305.8,430.2 315.3,467.0 324.8,427.4 334.3,388.7 343.8,447.4 353.4,396.8 362.9,402.1 372.4,403.9 381.9,394.9 391.4,390.6 400.9,388.7 410.4,404.8 419.9,394.1 429.4,387.4 438.9,380.2 448.4,437.6 458.0,408.8 467.5,373.5" fill="none" stroke="#000" stroke-width="1.6" stroke-linejoin="miter" clip-path="url(#cc)"/>
<polyline points="68.0,449.3 77.6,444.3 87.1,414.1 96.6,428.3 106.1,412.9 115.6,411.0 125.1,392.8 134.6,412.9 144.1,401.0 153.6,369.2 163.1,413.0 172.7,414.7 182.2,438.7 191.7,428.8 201.2,419.5 210.7,411.4 220.2,436.8 229.7,417.3 239.2,436.8 248.7,451.1 258.2,427.4 267.8,423.5 277.3,440.0 286.8,428.3 296.3,406.7 305.8,411.4 315.3,422.7 324.8,414.1 334.3,391.4 343.8,431.5 353.4,435.5 362.9,442.2 372.4,447.4 381.9,450.4 391.4,441.3 400.9,436.8 410.4,447.0 419.9,439.5 429.4,442.2 438.9,453.6 448.4,437.6 458.0,429.6 467.5,409.3" fill="none" stroke="#FF0000" stroke-width="1.6" stroke-linejoin="miter" clip-path="url(#cc)"/>
<rect x="410.9" y="467.6" width="44.9" height="23.4" fill="#fff" stroke="#555" stroke-width="0.6"/>
<path d="M412.5 473.8H434.4" stroke="#000" stroke-width="1.35"/>
<path d="M412.5 486.3H434.4" stroke="#FF0000" stroke-width="1.35"/>
<text class="ax" x="436.3" y="477.0">PC1</text>
<text class="ax" x="436.3" y="489.6">PC2</text>
</svg>
</body></html>
